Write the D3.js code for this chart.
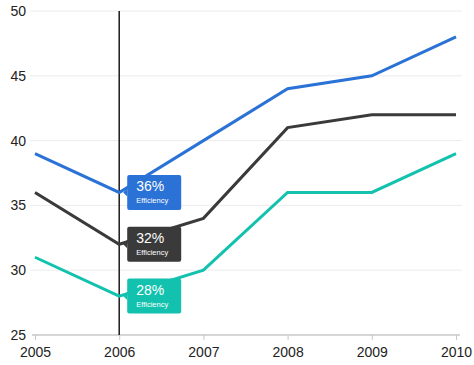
<!DOCTYPE html>
<html><head><meta charset="utf-8">
<script src="https://cdn.jsdelivr.net/npm/d3@7"></script>
<style>body{margin:0;background:#fff;font-family:"Liberation Sans",Arial,sans-serif}</style>
</head><body><svg id="c" width="474" height="365"></svg>
<script>
const years = [2005, 2006, 2007, 2008, 2009, 2010];
const seriesA = [39, 36, 40, 44, 45, 48];
const seriesB = [36, 32, 34, 41, 42, 42];
const seriesC = [31, 28, 30, 36, 36, 39];
const colors = ["#2a72d6", "#3a3a3a", "#12c2ae"];
const yTicks = [25, 30, 35, 40, 45, 50];
const hoverIndex = 1;
const tipLabel = "Efficiency";
const FONT = "'Liberation Sans',Arial,sans-serif";

const svg = d3.select("#c");
const x = d3.scaleLinear().domain([2005, 2010]).range([35, 456]);
const y = d3.scaleLinear().domain([25, 50]).range([335, 11]);

svg.append("g").selectAll("line").data(yTicks.slice(1)).join("line")
  .attr("x1", 30).attr("x2", 462).attr("y1", d => y(d)).attr("y2", d => y(d))
  .attr("stroke", "#ececec").attr("stroke-width", 1);

svg.append("g").selectAll("text").data(yTicks).join("text")
  .attr("x", 26).attr("y", d => y(d)).attr("dy", "0.35em").attr("text-anchor", "end")
  .attr("font-size", 14).attr("font-family", FONT).attr("fill", "#222").text(d => d);

const xa = svg.append("g").attr("transform", `translate(0,${y(25)})`)
  .call(d3.axisBottom(x).tickValues(years).tickFormat(d3.format("d")).tickSize(5).tickSizeOuter(0));
xa.select(".domain").attr("stroke", "#c8c8c8").attr("stroke-width", 1.5)
  .attr("d", `M${x(2005)-3},0H${x(2010)+4}`);
xa.selectAll(".tick line").attr("stroke", "#c8c8c8");
xa.selectAll(".tick text").attr("font-size", 14).attr("fill", "#222").attr("dy", "1.0em")
  .attr("font-family", FONT);

svg.append("line").attr("x1", x(years[hoverIndex])).attr("x2", x(years[hoverIndex]))
  .attr("y1", y(50)).attr("y2", y(25)).attr("stroke", "#1a1a1a").attr("stroke-width", 1.5);

const line = d3.line().x((d, i) => x(years[i])).y(d => y(d));
[seriesA, seriesB, seriesC].forEach((s, k) => {
  svg.append("path").datum(s).attr("d", line).attr("fill", "none")
    .attr("stroke", colors[k]).attr("stroke-width", 3).attr("stroke-linejoin", "miter");
});

[seriesA, seriesB, seriesC].forEach((s, k) => {
  const px = x(years[hoverIndex]), py = y(s[hoverIndex]);
  const g = svg.append("g").attr("transform", `translate(${px + 8},${py})`);
  g.append("path").attr("d", "M0,-4 L-4,0 L0,4 Z").attr("fill", colors[k]);
  g.append("rect").attr("x", 0).attr("y", -17.5).attr("width", 54).attr("height", 35)
    .attr("rx", 2).attr("fill", colors[k]);
  g.append("text").attr("x", 9).attr("y", -1).attr("fill", "#fff").attr("font-size", 14)
    .attr("font-family", FONT).text(s[hoverIndex] + "%");
  g.append("text").attr("x", 9).attr("y", 11).attr("fill", "#fff").attr("font-size", 7.5)
    .attr("font-family", FONT).text(tipLabel);
});
</script></body></html>
